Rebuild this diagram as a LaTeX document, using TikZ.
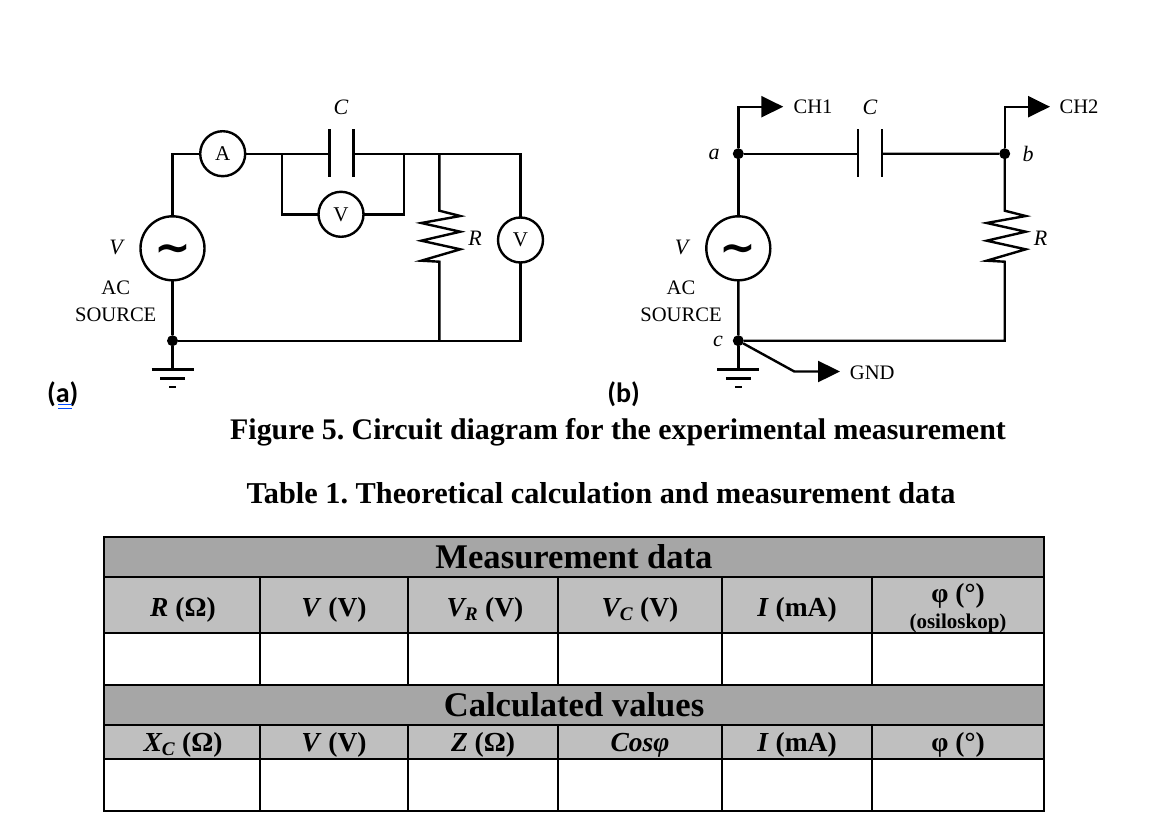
\documentclass[tikz,border=0pt]{standalone}
\usepackage{fontspec}
\setmainfont{Liberation Serif}
\newfontfamily\panelfont{Carlito}
\newfontfamily\tildefont{DejaVu Sans}
\usetikzlibrary{arrows.meta,positioning}
\frenchspacing
\newcommand{\zigzag}[1]{-- ++(21,5.3) -- ++(-39,7) -- ++(39,8.7) -- ++(-39,9) -- ++(39,8.6) -- ++(-39,11.4) -- ++(18,1)}
\newcommand{\groundbars}[1]{
  \draw ([xshift=-21pt]#1) -- ([xshift=21pt]#1);
  \draw ([xshift=-12.5pt,yshift=-9pt]#1) -- ([xshift=12.5pt,yshift=-9pt]#1);
  \draw ([xshift=-3.5pt,yshift=-17.5pt]#1) -- ([xshift=3.5pt,yshift=-17.5pt]#1);
}
\newcommand{\capplates}[1]{
  \draw (#1,129.3) -- (#1,176.7);
  \draw (#1+24,129.3) -- (#1+24,176.7);
}
\definecolor{headdark}{HTML}{A6A6A6}
\definecolor{headlight}{HTML}{BFBFBF}
\begin{document}
\begin{tikzpicture}[x=1pt, y=-1pt, line width=2.4pt,
      every node/.append style={inner sep=0pt,outer sep=0pt,line width=2.4pt},
      probe/.style={-{Triangle[length=22pt,width=21pt]}},
      meter/.style={draw,circle,minimum size=45pt,font=\fontsize{21}{22}\selectfont},
      acsource/.style={draw,circle,minimum size=64pt,font=\tildefont\bfseries\fontsize{44}{44}\selectfont},
      junction/.style={fill=black,circle,minimum size=11pt},
      part/.style={font=\itshape\fontsize{22}{24}\selectfont},
      plain/.style={font=\fontsize{20.6}{23}\selectfont},
      panel/.style={font=\panelfont\bfseries\fontsize{28}{30}\selectfont},
      heading/.style={font=\bfseries\fontsize{29.9}{33}\selectfont},
      headingB/.style={font=\bfseries\fontsize{30.3}{33}\selectfont},
      tabletitle/.style={font=\bfseries\fontsize{34.6}{38}\selectfont},
      cellhead/.style={font=\bfseries\fontsize{27.5}{30}\selectfont},
      grid/.style={draw=black,line width=2pt}]
    \useasboundingbox (0,0) rectangle (1151,838);
    % circuit (a)
    \node (srcA) [acsource] at (172.5,248.3) {\smash{\raisebox{-14pt}{∼}}};
    \node (ammeter) [meter] at (222.7,153.7) {A};
    \node (capMeter) [meter] at (341,214.3) {V};
    \node (resMeter) [meter] at (520.5,240) {V};
    \node (gndDotA) [junction] at (172.5,340.7) {};
    \coordinate (cornerA) at (172.5,153.7);
    \coordinate (gndA) at (172.5,369.5);
    \coordinate (capLeftA) at (329.3,153.7);
    \coordinate (capRightA) at (353.3,153.7);
    \coordinate (tapLeft) at (281.7,153.7);
    \coordinate (tapRight) at (403.7,153.7);
    \coordinate (resTopA) at (439.3,153.7);
    \coordinate (resBotA) at (439.3,340.7);
    \coordinate (topRightA) at (520.5,153.7);
    \coordinate (botRightA) at (520.5,340.7);
    \draw (srcA) -- (cornerA) -- (ammeter);
    \draw (ammeter) -- (capLeftA);
    \capplates{329.3}
    \draw (capRightA) -- (topRightA) -- (resMeter) -- (botRightA) -- (gndDotA) -- (srcA);
    \draw (tapLeft) |- (capMeter);
    \draw (tapRight) |- (capMeter);
    \draw (resTopA) -- (439.3,210.7) \zigzag{} -- (resBotA);
    \draw (gndDotA) -- (gndA);
    \groundbars{gndA}
    \node (labelCA) [part] at (341,107) {C};
    \node (labelVA) [part] at (116,247) {V};
    \node (labelRA) [part] at (475,238) {R};
    \node (labelAcA) [plain] at (115.7,287.5) {AC};
    \node (labelSrcA) [plain] at (115.7,314.5) {SOURCE};
    \node (panelA) [panel] at (62.7,394) {(a)};
    \coordinate (spellLeftA) at (58,404.3);
    \coordinate (spellRightA) at (72,404.3);
    \coordinate (spellLeftB) at (58,408.5);
    \coordinate (spellRightB) at (72,408.5);
    \draw[blue!70!cyan,line width=1pt] (spellLeftA) -- (spellRightA);
    \draw[blue!70!cyan,line width=1pt] (spellLeftB) -- (spellRightB);
    % circuit (b)
    \node (srcB) [acsource] at (738.3,248.3) {\smash{\raisebox{-14pt}{∼}}};
    \node (nodeA) [junction] at (738.3,153.7) {};
    \node (nodeB) [junction] at (1004.7,153.7) {};
    \node (nodeC) [junction] at (738.3,340.7) {};
    \node (ch1) [plain] at (813,107) {CH1};
    \node (ch2) [plain] at (1079,107) {CH2};
    \node (gndLabel) [plain] at (872.3,372.7) {GND};
    \coordinate (ch1Corner) at (738.3,106.7);
    \coordinate (ch1Tip) at (783.3,106.7);
    \coordinate (ch2Corner) at (1004.7,106.7);
    \coordinate (ch2Tip) at (1050,106.7);
    \coordinate (gndBend) at (794.3,371.5);
    \coordinate (gndTip) at (840,371.5);
    \coordinate (gndB) at (738.3,369.5);
    \coordinate (capLeftB) at (857.7,153.7);
    \coordinate (capRightB) at (881.7,153.7);
    \coordinate (botRightB) at (1004.7,340.7);
    \draw[probe] (nodeA) -- (ch1Corner) -- (ch1Tip);
    \draw[probe] (nodeB) -- (ch2Corner) -- (ch2Tip);
    \draw[probe] (nodeC) -- (gndBend) -- (gndTip);
    \draw (srcB) -- (nodeA) -- (capLeftB);
    \capplates{857.7}
    \draw (capRightB) -- (nodeB) -- (1004.7,210.7) \zigzag{} -- (botRightB) -- (nodeC) -- (srcB);
    \draw (nodeC) -- (gndB);
    \groundbars{gndB}
    \node (labelCB) [part] at (870,107) {C};
    \node (labelVB) [part] at (681.7,247) {V};
    \node (labelRB) [part] at (1040.7,238) {R};
    \node (labelNodeA) [part] at (714,154) {a};
    \node (labelNodeB) [part] at (1028,154) {b};
    \node (labelNodeC) [part] at (718,341.5) {c};
    \node (labelAcB) [plain] at (681,287.5) {AC};
    \node (labelSrcB) [plain] at (681,314.5) {SOURCE};
    \node (panelB) [panel] at (623.7,394) {(b)};
    % captions
    \node (figCaption) [heading] at (618,432.5) {Figure 5. Circuit diagram for the experimental measurement};
    \node (tabCaption) [headingB] at (601,493) {Table 1. Theoretical calculation and measurement data};
    % table
    \draw[grid,fill=headdark] (104,537) rectangle (1044,576.7) node[midway,tabletitle] (measTitle) {Measurement data};
    \draw[grid,fill=headdark] (104,684.7) rectangle (1044,725) node[midway,tabletitle] (calcTitle) {Calculated values};
    \foreach \xa/\xb in {104/260,260/408.3,408.3/558,558/722.3,722.3/872,872/1044} {
      \draw[grid,fill=headlight] (\xa,576.7) rectangle (\xb,632.7);
      \draw[grid,fill=white] (\xa,632.7) rectangle (\xb,684.7);
      \draw[grid,fill=headlight] (\xa,725) rectangle (\xb,759);
      \draw[grid,fill=white] (\xa,759) rectangle (\xb,810.7);
    }
    \node (measR) [cellhead] at (183,610) {\textit{R} (Ω)};
    \node (measV) [cellhead] at (334,610) {\textit{V} (V)};
    \node (measVR) [cellhead] at (485,610) {\textit{V\textsubscript{R}} (V)};
    \node (measVC) [cellhead] at (640,610) {\textit{V\textsubscript{C}} (V)};
    \node (measI) [cellhead] at (797,610) {\textit{I} (mA)};
    \node (measPhi) [cellhead] at (958,596) {φ (°)};
    \node (measOsc) [font=\bfseries\fontsize{21}{23}\selectfont] at (958,623.5) {(osiloskop)};
    \node (calcX) [cellhead] at (183,745) {\textit{X\textsubscript{C}} (Ω)};
    \node (calcV) [cellhead] at (334,745) {\textit{V} (V)};
    \node (calcZ) [cellhead] at (483,745) {\textit{Z} (Ω)};
    \node (calcCos) [cellhead] at (640,745) {\textit{Cosφ}};
    \node (calcI) [cellhead] at (797,745) {\textit{I} (mA)};
    \node (calcPhi) [cellhead] at (958,745) {φ (°)};
\end{tikzpicture}
\end{document}
